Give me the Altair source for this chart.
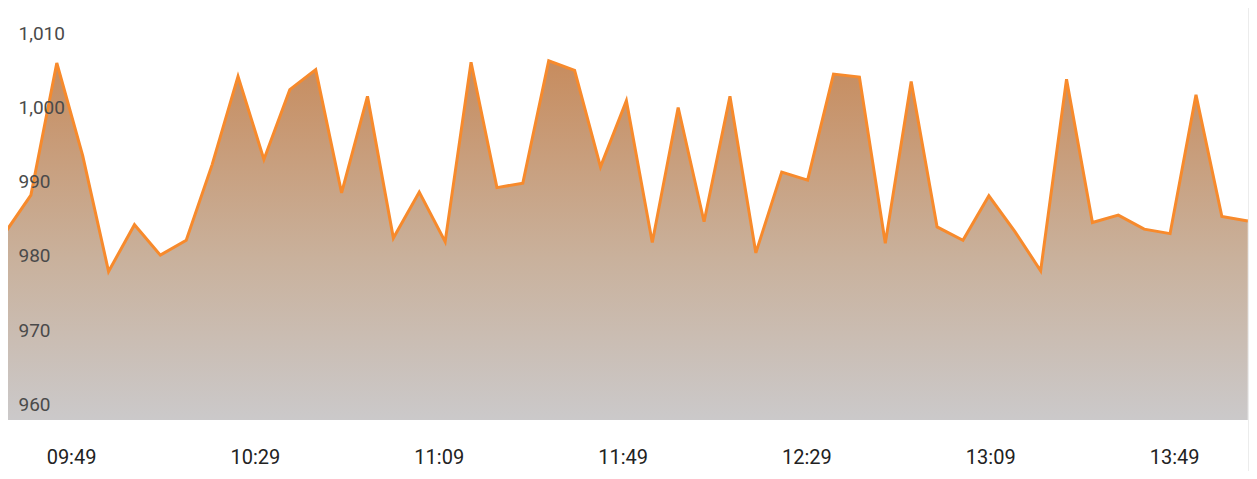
import altair as alt
import pandas as pd

times = [
    "09:34:38", "09:40:16", "09:45:54", "09:51:32", "09:57:10", "10:02:48", "10:08:26",
    "10:14:04", "10:19:42", "10:25:20", "10:30:58", "10:36:36", "10:42:14", "10:47:52",
    "10:53:30", "10:59:08", "11:04:46", "11:10:24", "11:16:02", "11:21:40", "11:27:18",
    "11:32:56", "11:38:34", "11:44:12", "11:49:50", "11:55:28", "12:01:06", "12:06:44",
    "12:12:22", "12:18:00", "12:23:38", "12:29:16", "12:34:54", "12:40:32", "12:46:10",
    "12:51:48", "12:57:26", "13:03:04", "13:08:42", "13:14:20", "13:19:58", "13:25:36",
    "13:31:14", "13:36:52", "13:42:30", "13:48:08", "13:53:46", "13:59:24", "14:05:02",
]
values = [
    983.1, 988.2, 1006.0, 993.5, 977.9, 984.2, 980.1,
    982.1, 992.3, 1004.2, 993.0, 1002.4, 1005.1, 988.5,
    1001.5, 982.4, 988.6, 981.9, 1006.1, 989.2, 989.8,
    1006.3, 1005.0, 992.0, 1000.9, 981.8, 1000.0, 984.6,
    1001.5, 980.4, 991.3, 990.2, 1004.5, 1004.1, 981.7,
    1003.5, 983.9, 982.1, 988.1, 983.3, 978.0, 1003.8,
    984.5, 985.5, 983.6, 983.0, 1001.7, 985.3, 984.7,
]
tick_times = ["09:49", "10:29", "11:09", "11:49", "12:29", "13:09", "13:49"]
y_ticks = [960, 970, 980, 990, 1000, 1010]

day = "2024-01-01T"
df = pd.DataFrame({"t": [day + t for t in times], "v": values})

# view spans page x 8..1247; first/last points sit just outside the view edges
x_domain = [day + "09:35:17", day + "14:04:52"]
tick_vals = [alt.DateTime(year=2024, month=1, date=1,
                          hours=int(s[:2]), minutes=int(s[3:])) for s in tick_times]

W, H = 1239, 412

x = alt.X("t:T",
          scale=alt.Scale(domain=x_domain),
          axis=alt.Axis(values=tick_vals, format="%H:%M", title=None, grid=False,
                        domain=False, ticks=False, labelPadding=27,
                        labelFont="Roboto", labelFontSize=20, labelColor="#222222",
                        labelAngle=0, labelFlush=False))
y = alt.Y("v:Q",
          scale=alt.Scale(domain=[957.88, 1013.41], nice=False, zero=False),
          axis=alt.Axis(values=y_ticks, format=",d", title=None, grid=False,
                        domain=False, ticks=False, orient="left", zindex=1,
                        labelAlign="left", labelBaseline="middle", labelPadding=-10,
                        labelFont="Roboto", labelFontSize=19, labelColor="#4a4a4a"))

area = alt.Chart(df).mark_area(
    color=alt.Gradient(
        gradient="linear",
        stops=[alt.GradientStop(color="#c78c5e", offset=0),
               alt.GradientStop(color="#c9b19c", offset=0.55),
               alt.GradientStop(color="#cbc9ca", offset=1)],
        x1=0, x2=0, y1=0, y2=1),
    clip=False,
).encode(x=x, y=y, y2=alt.datum(957.88))

line = alt.Chart(df).mark_line(color="#f78a2c", strokeWidth=3, strokeJoin="miter").encode(x=x, y=y)

border = alt.Chart(df).mark_rule(color="#ececec", strokeWidth=1).encode(
    x=alt.value(W + 1.5), y=alt.value(-8), y2=alt.value(463))

chart = alt.layer(area, line, border).properties(
    width=W, height=H,
    autosize=alt.AutoSizeParams(type="none"),
    padding={"left": 0, "top": 0, "right": 2, "bottom": 51},
    background="white",
).configure_view(stroke=None)

chart.save("out.html", embed_options={"renderer": "svg", "actions": False})
